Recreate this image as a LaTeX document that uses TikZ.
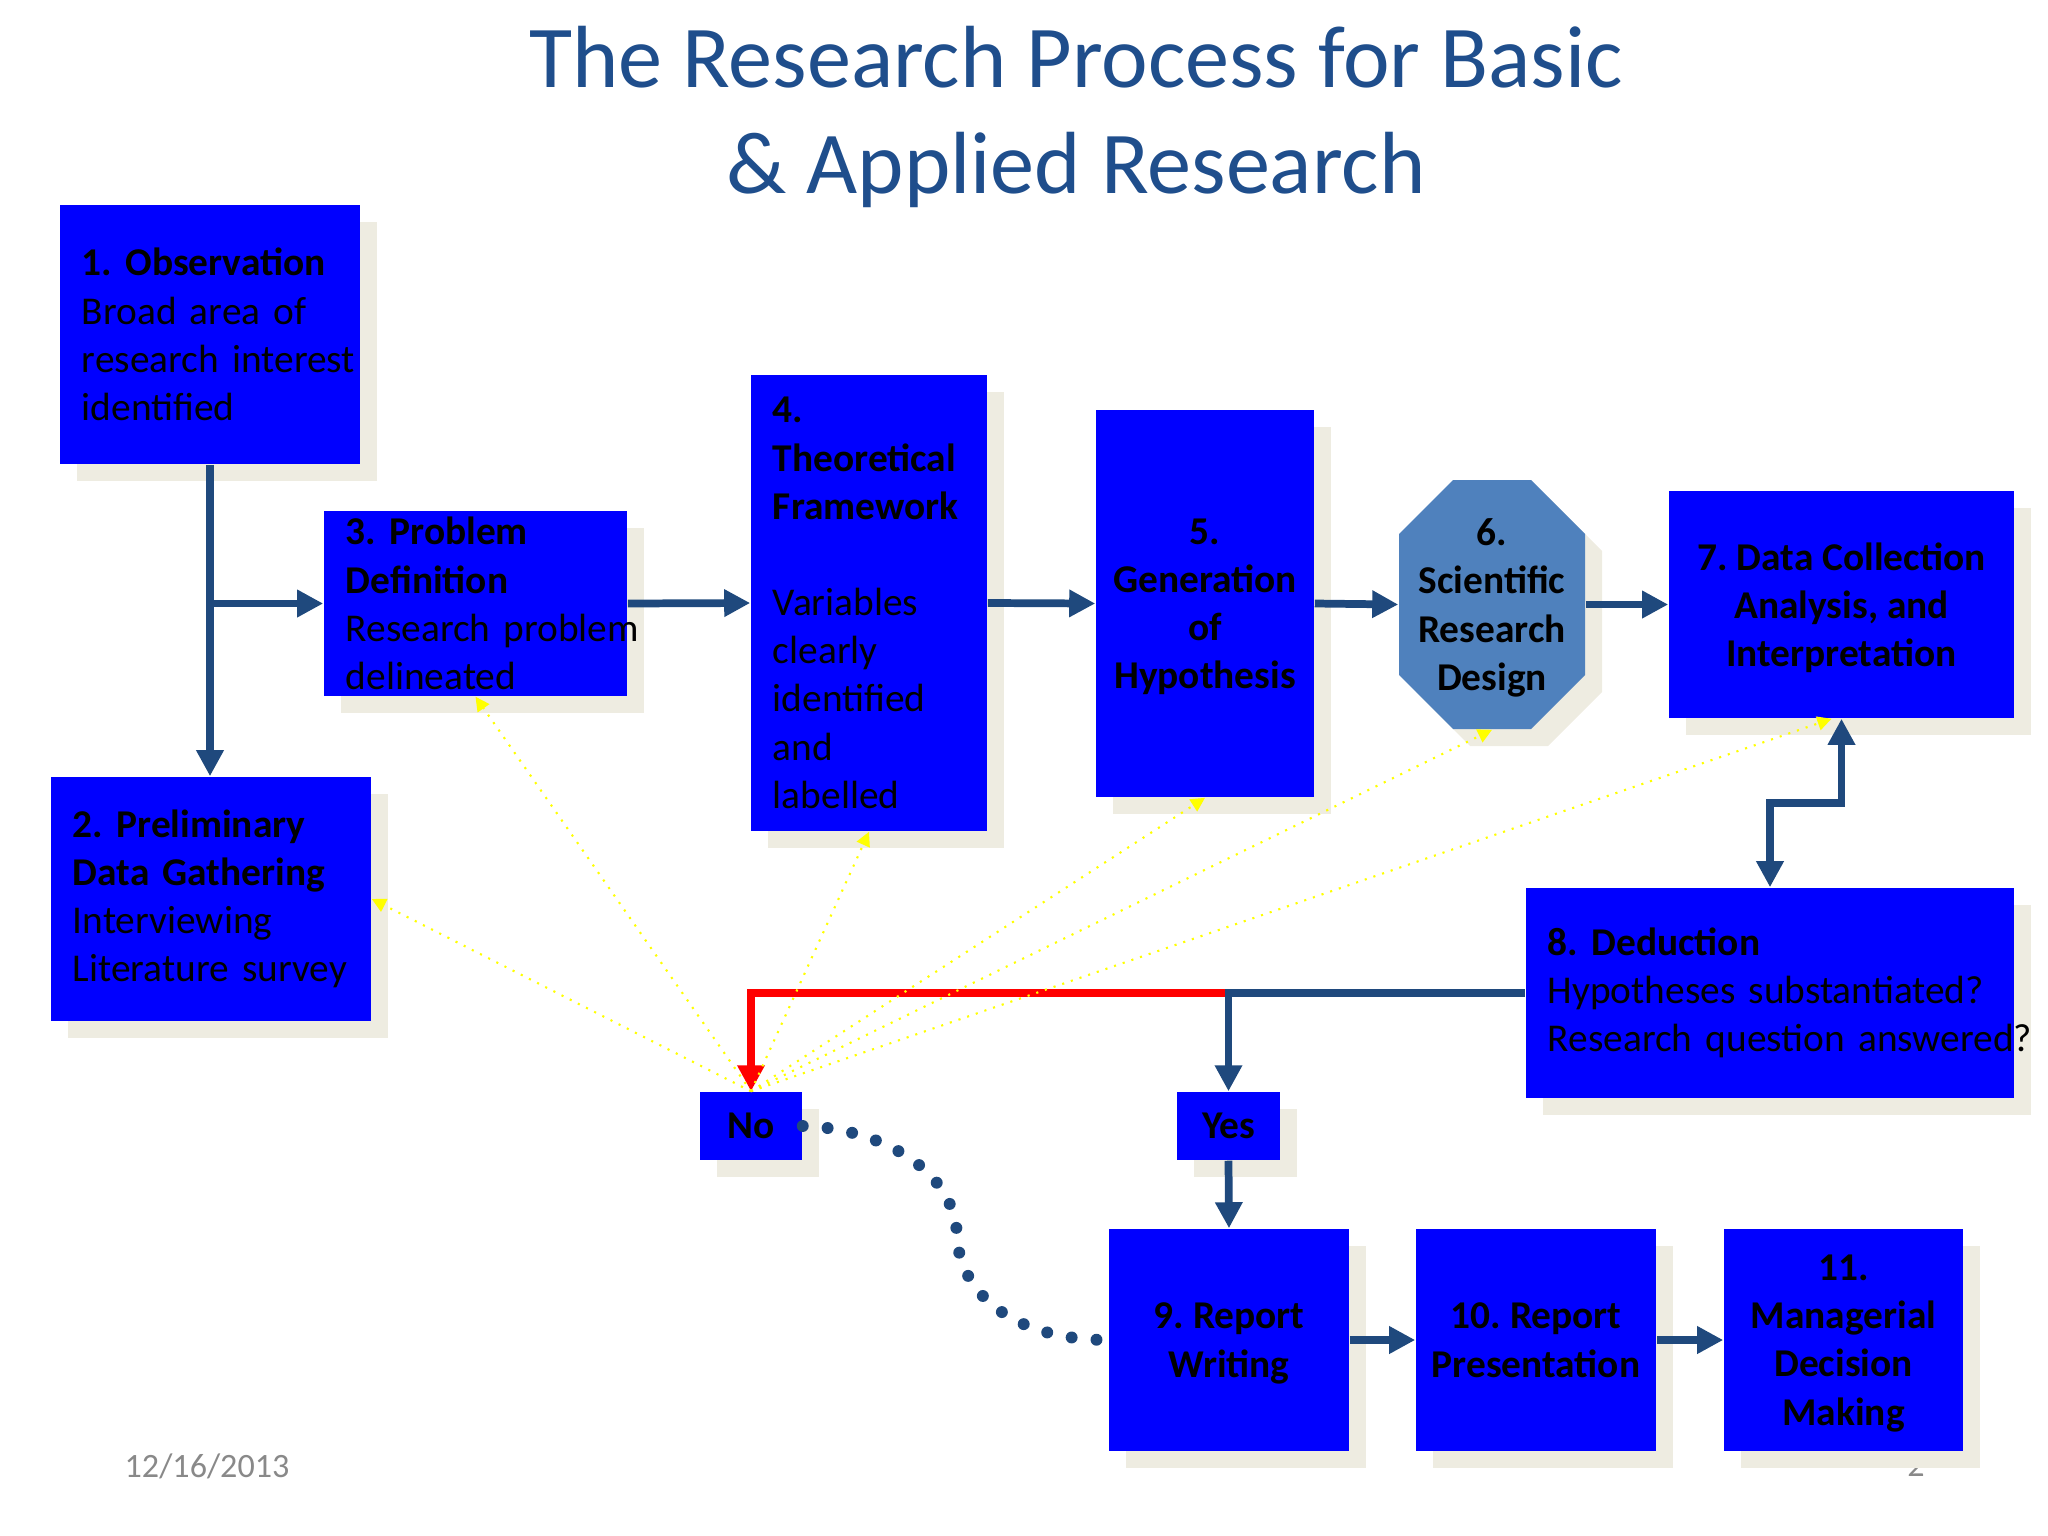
\documentclass[tikz,border=0pt]{standalone}
\usepackage{fontspec}
\setmainfont{Carlito}
\frenchspacing
\usetikzlibrary{arrows.meta,shadows,calc}
\definecolor{boxblue}{RGB}{0,0,255}
\definecolor{shadowc}{RGB}{238,236,225}
\definecolor{octc}{RGB}{79,129,189}
\definecolor{navy}{RGB}{31,73,125}
\definecolor{titlec}{RGB}{31,78,140}
\definecolor{dategray}{RGB}{137,137,137}
\definecolor{yel}{RGB}{255,255,0}
\definecolor{redc}{RGB}{255,0,0}
\tikzset{
 boxbase/.style={fill=boxblue, inner sep=0pt,
   general shadow={fill=shadowc, shadow xshift=0.17cm, shadow yshift=-0.17cm}},
 lbox/.style={boxbase, align=left, inner xsep=0.22cm,
   font=\fontsize{11.2}{13.7}\selectfont},
 cbox/.style={boxbase, align=center, text depth=0pt,
   font=\fontsize{11.2}{13.7}\selectfont\bfseries},
 flow/.style={draw=navy, line width=2.2pt, -{Triangle[length=7.4pt,width=7.4pt]}},
 biflow/.style={draw=navy, line width=2.2pt, {Triangle[length=7.4pt,width=7.4pt]}-{Triangle[length=7.4pt,width=7.4pt]}},
 redflow/.style={draw=redc, line width=2pt, -{Triangle[length=7.4pt,width=7.4pt]}},
 yflow/.style={draw=yel, line width=0.6pt, dotted, -{Triangle[length=4pt,width=4pt]}},
 dotcurve/.style={draw=navy, line width=3.4pt, line cap=round, dash pattern=on 0pt off 7.1pt},
}
\begin{document}
\begin{tikzpicture}[x=0.01cm,y=-0.01cm]
\useasboundingbox (0,0) rectangle (2048,1536);
% title
\node[font=\fontsize{25.1}{30}\selectfont, text=titlec, anchor=base, inner sep=0] (t1) at (1076,87) {The Research Process for Basic};
\node[font=\fontsize{25.1}{30}\selectfont, text=titlec, anchor=base, inner sep=0] (t2) at (1076,193) {\& Applied Research};
% footer
\node[font=\fontsize{9.7}{12}\selectfont, text=dategray, anchor=base west, inner sep=0] (date) at (124,1477) {12/16/2013};
\node[font=\fontsize{9.7}{12}\selectfont, text=dategray, anchor=base, inner sep=0] (pg) at (1916,1476) {2};
% boxes
\node[lbox, text width=2.56cm, minimum height=2.59cm] (b1) at (210,334.5)
 {\textbf{1. Observation}\\Broad area of\\\mbox{research interest}\\identified};
\node[lbox, text width=2.59cm, minimum height=1.85cm] (b3) at (475.5,603.5)
 {\textbf{3. Problem}\\\textbf{Definition}\\\mbox{Research problem}\\delineated};
\node[lbox, text width=2.76cm, minimum height=2.44cm] (b2) at (211,899)
 {\textbf{\mbox{2. Preliminary}}\\\textbf{\mbox{Data Gathering}}\\Interviewing\\\mbox{Literature survey}};
\node[lbox, text width=1.92cm, minimum height=4.56cm] (b4) at (869,603)
 {\textbf{4.}\\\textbf{\mbox{Theoretical}}\\\textbf{\mbox{Framework}}\\[13.7pt]Variables\\clearly\\identified\\and\\labelled};
\node[cbox, minimum width=2.18cm, minimum height=3.87cm] (b5) at (1205,603.5)
 {5.\\Generation\\of\\Hypothesis};
% octagon 6
\fill[shadowc, shift={(17,17)}] (1453,480) -- (1531,480) -- (1585,534) -- (1585,675) -- (1531,729) -- (1453,729) -- (1399,675) -- (1399,534) -- cycle;
\fill[octc] (1453,480) -- (1531,480) -- (1585,534) -- (1585,675) -- (1531,729) -- (1453,729) -- (1399,675) -- (1399,534) -- cycle;
\node[align=center, inner sep=0pt, text depth=0pt, minimum width=1.86cm, minimum height=2.49cm,
  font=\fontsize{11.2}{13.7}\selectfont\bfseries] (b6) at (1492,604.5)
 {6.\\Scientific\\Research\\Design};
\node[cbox, minimum width=3.45cm, minimum height=2.27cm] (b7) at (1841.5,604.5)
 {7. Data Collection\\Analysis, and\\Interpretation};
\node[lbox, text width=4.44cm, minimum height=2.10cm] (b8) at (1770,993)
 {\textbf{8. Deduction}\\\mbox{Hypotheses substantiated?}\\\mbox{Research question answered?}};
\node[cbox, minimum width=1.02cm, minimum height=0.68cm] (no) at (751,1126) {No};
\node[cbox, minimum width=1.03cm, minimum height=0.68cm] (yes) at (1228.5,1126) {Yes};
\node[cbox, minimum width=2.40cm, minimum height=2.22cm] (b9) at (1229,1340)
 {9. Report\\Writing};
\node[cbox, minimum width=2.40cm, minimum height=2.22cm] (b10) at (1536,1340)
 {10. Report\\Presentation};
\node[cbox, minimum width=2.39cm, minimum height=2.22cm] (b11) at (1843.5,1340)
 {11.\\Managerial\\Decision\\Making};
% connectors
\draw[flow] (b1.south) -- (b1.south |- b2.north);
\coordinate (j1) at (b1.south |- b3.west);
\draw[flow] (j1) -- (b3.west);
\draw[flow] (b3.east) -- (b4.west);
\draw[flow] (b4.east) -- (b5.west);
\draw[flow] (b5.east) -- (b6.west);
\draw[flow] (b6.east) -- (b7.west);
\draw[biflow] (b7.south) -- ++(0,84) -| (b8.north);
\coordinate (j2) at (yes.north |- b8.west);
\draw[redflow] (j2) -| (no.north);
\draw[flow] (b8.west) -| (yes.north);
\draw[flow] (yes.south) -- (b9.north);
\draw[flow] (b9.east) -- (b10.west);
\draw[flow] (b10.east) -- (b11.west);
% yellow feedback
\draw[yflow] (no.north) -- (b2.east);
\draw[yflow] (no.north) -- (b3.south);
\draw[yflow] (no.north) -- (b4.south);
\draw[yflow] (no.north) -- (b5.south);
\draw[yflow] (no.north) -- (b6.south);
\draw[yflow] (no.north) -- ($(b7.south)+(-10,0)$);
% dotted curve
\draw[dotcurve] (no.east) .. controls (880,1128) and (955,1170) .. (957,1236) .. controls (959,1290) and (1010,1340) .. (b9.west);
\end{tikzpicture}
\end{document}
